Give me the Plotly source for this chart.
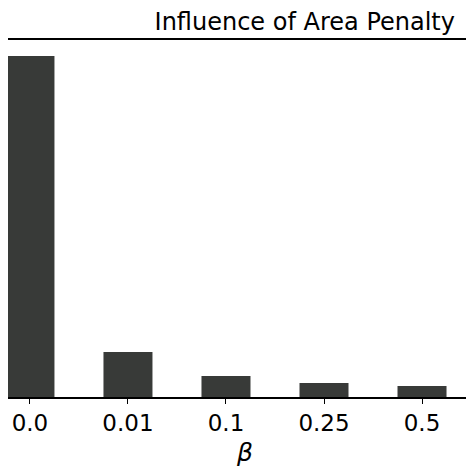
import plotly.graph_objects as go

categories = ["0.0", "0.01", "0.1", "0.25", "0.5"]
values = [341, 45, 21, 14, 11]

fig = go.Figure(go.Bar(x=list(range(len(categories))), y=values, width=0.5,
                       marker=dict(color="#383a38", line=dict(width=0))))
fig.update_layout(
    width=474, height=474, margin=dict(l=0, r=0, t=32, b=85),
    plot_bgcolor="white", paper_bgcolor="white", showlegend=False,
    font=dict(family="DejaVu Sans", color="black"),
    title=dict(text="Influence of Area Penalty", x=0.943, xanchor="right",
               y=0.972, yanchor="middle", font=dict(size=24)),
)
fig.update_xaxes(range=[-0.224, 4.612], tickvals=list(range(len(categories))),
                 ticktext=categories, tickfont=dict(size=23), ticks="outside",
                 ticklen=5, tickcolor="black", showline=True, linecolor="black",
                 linewidth=1.5, mirror=True, showgrid=False, zeroline=False,
                 title=dict(text="<i>β</i>", font=dict(size=25), standoff=8))
fig.update_yaxes(range=[0, 357], showticklabels=False, ticks="", showgrid=False,
                 zeroline=False, showline=False)
fig.write_html("out.html")
